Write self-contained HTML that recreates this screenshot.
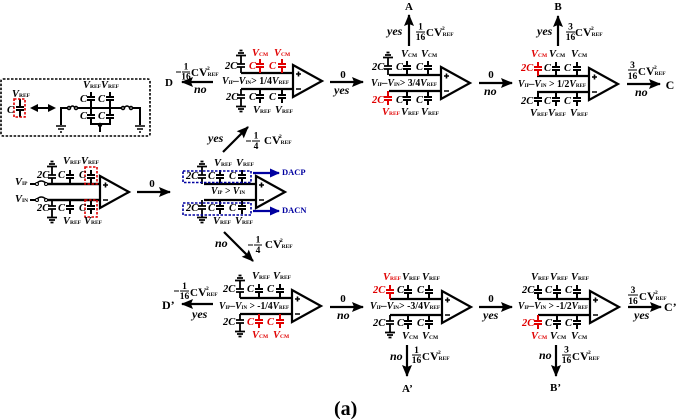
<!DOCTYPE html>
<html><head><meta charset="utf-8"><style>
html,body{margin:0;padding:0;background:#fff}
svg{display:block}
text{font:italic bold 10.5px "Liberation Serif",serif;fill:#000}
.u{font-style:normal;font-size:11px}
.s{font-size:5.5px;font-style:normal}
.r,.r tspan{fill:#e00000}
.b{font:bold 8.5px "Liberation Serif",serif;fill:#0000a0}
.l{font-size:11px;font-style:normal}
.n{font-size:9.5px;font-style:normal}
.q{font-size:12px}
.k{font-size:5.5px;font-style:normal}
</style></head><body>
<svg width="685" height="419" viewBox="0 0 685 419" xmlns="http://www.w3.org/2000/svg">
<defs>
<marker id="a" markerUnits="userSpaceOnUse" markerWidth="13" markerHeight="10" refX="11" refY="5" orient="auto"><path d="M0 0L12 5L0 10L2 5Z" fill="#000"/></marker>
<marker id="bl" markerUnits="userSpaceOnUse" markerWidth="11" markerHeight="9" refX="9" refY="4.5" orient="auto"><path d="M0 0L10 4.5L0 9Z" fill="#0000a0"/></marker>
<g id="cu" fill="none" stroke-width="2"><path d="M0 0V-6M-4-6H4M-4-9H4M0-9V-14"/></g>
<g id="cd" fill="none" stroke-width="2"><path d="M0 0V6M-4 6H4M-4 9H4M0 9V14"/></g>
<g id="gu" fill="none" stroke-width="1.800"><path d="M0 0V-6M-4-6H4M-4-9H4M0-9V-17M-5-17.500H5M-3-20H3M-1.500-22.500H1.500"/></g>
<g id="gd" fill="none" stroke-width="1.800"><path d="M0 0V6M-4 6H4M-4 9H4M0 9V17M-5 17.500H5M-3 20H3M-1.500 22.500H1.500"/></g>
<g id="m" fill="none" stroke="#000" stroke-width="2.200"><path d="M0-8L29 8L0 24ZM-52 0H0M-52 16H0"/><path stroke-width="1.600" d="M3 1H8M5.500-1.500V3.500M3 16H8"/></g>
</defs>

<!-- dashed inset -->
<rect x="1" y="79" width="149" height="57" rx="2" fill="none" stroke="#000" stroke-width="1.600" stroke-dasharray="2.500 1.500"/>
<g stroke="#000" fill="none" stroke-width="2">
<path d="M20 99V107M16 107H24M16 110H24M20 110V117"/>
<path d="M61 125V108H68M77 108H122M132 108H140V125"/>
<path d="M91 108V100M87 100H95M87 97H95M91 97V92M110 108V100M106 100H114M106 97H114M110 97V92"/>
<path d="M91 108V115M87 115H95M87 118H95M91 118V124H110V118M106 118H114M106 115H114M110 115V108M100 124V132"/>
<path d="M56 126H66M58 129H64M60 132H62M135 126H145M137 129H143M139 132H141M70 108Q72.500 104 75 108M124 108Q127 104 130 108" stroke-width="1.500"/>
<circle cx="69" cy="108" r="1.500" stroke-width="1.500"/><circle cx="76" cy="108" r="1.500" stroke-width="1.500"/><circle cx="123" cy="108" r="1.500" stroke-width="1.500"/><circle cx="131" cy="108" r="1.500" stroke-width="1.500"/>
</g>
<circle cx="100" cy="125" r="2.200"/>
<rect x="14" y="99" width="11" height="18" fill="none" stroke="#e00000" stroke-width="1.600" stroke-dasharray="2.500 1.500"/>
<path d="M32 108H54" stroke="#000" stroke-width="2"/><path d="M30 108L38 104V112ZM56 108L48 104V112Z"/>
<text x="12" y="97">V<tspan class="s">REF</tspan></text><text x="7" y="113">C</text>
<text x="83" y="88">V<tspan class="s">REF</tspan></text><text x="101" y="88">V<tspan class="s">REF</tspan></text>
<text x="80" y="102">C</text><text x="98" y="102">C</text><text x="80" y="119">C</text><text x="98" y="119">C</text>

<!-- left comparator -->
<g stroke="#000"><use href="#m" x="100" y="184"/><path d="M30 184H36M30 200H36" stroke-width="2" fill="none"/>
<path d="M47 184H100M47 200H100" stroke-width="2.200"/>
<path d="M37 183Q41 179 46 183M37 199Q41 195 46 199" fill="none" stroke-width="1.500"/>
<use href="#gu" x="52" y="184"/><use href="#cu" x="70" y="184"/><use href="#cu" x="91" y="184"/>
<use href="#gd" x="52" y="200"/><use href="#cd" x="70" y="200"/><use href="#cd" x="91" y="200"/></g>
<circle cx="37" cy="184" r="1.500" fill="none" stroke="#000"/><circle cx="46" cy="184" r="1.500" fill="none" stroke="#000"/><circle cx="37" cy="200" r="1.500" fill="none" stroke="#000"/><circle cx="46" cy="200" r="1.500" fill="none" stroke="#000"/>
<g fill="none" stroke="#e00000" stroke-width="1.600" stroke-dasharray="2.500 1.500"><rect x="85" y="167" width="12" height="17"/><rect x="85" y="200" width="12" height="17"/></g>
<text x="15" y="185">V<tspan class="s">IP</tspan></text><text x="15" y="202">V<tspan class="s">IN</tspan></text>
<text x="63" y="164">V<tspan class="s">REF</tspan></text><text x="81" y="164">V<tspan class="s">REF</tspan></text>
<text x="37" y="178">2C</text><text x="58" y="178">C</text><text x="79" y="178">C</text>
<text x="37" y="211">2C</text><text x="58" y="211">C</text><text x="79" y="211">C</text>
<text x="63" y="224">V<tspan class="s">REF</tspan></text><text x="84" y="224">V<tspan class="s">REF</tspan></text>
<line x1="137" y1="192" x2="170" y2="192" stroke="#000" stroke-width="2.200" marker-end="url(#a)"/>
<text x="152" y="187" class="u" text-anchor="middle">0</text>

<!-- middle comparator -->
<g stroke="#000"><use href="#m" x="256" y="184"/><use href="#gu" x="202" y="184"/><use href="#cu" x="220" y="184"/><use href="#cu" x="242" y="184"/><use href="#gd" x="202" y="200"/><use href="#cd" x="220" y="200"/><use href="#cd" x="242" y="200"/></g>
<g fill="none" stroke="#0000a0" stroke-width="1.600" stroke-dasharray="2.500 1.500"><rect x="183" y="171" width="68" height="11.500"/><rect x="183" y="203" width="68" height="12"/></g>
<text x="214" y="166">V<tspan class="s">REF</tspan></text><text x="236" y="166">V<tspan class="s">REF</tspan></text>
<text x="186" y="179">2C</text><text x="208" y="179">C</text><text x="229" y="179">C</text>
<text x="186" y="211">2C</text><text x="208" y="211">C</text><text x="229" y="211">C</text>
<text x="213" y="224">V<tspan class="s">REF</tspan></text><text x="235" y="224">V<tspan class="s">REF</tspan></text>
<text x="211" y="194" textLength="34" lengthAdjust="spacingAndGlyphs">V<tspan class="s">IP</tspan><tspan style="font-style:normal"> &gt; </tspan>V<tspan class="s">IN</tspan></text>
<line x1="253" y1="173" x2="279" y2="173" stroke="#0000a0" stroke-width="2.200" marker-end="url(#bl)"/>
<line x1="253" y1="211" x2="279" y2="211" stroke="#0000a0" stroke-width="2.200" marker-end="url(#bl)"/>
<text x="282" y="175" class="b">DACP</text><text x="282" y="213" class="b">DACN</text>
<line x1="223" y1="152" x2="248" y2="127" stroke="#000" stroke-width="2.200" marker-end="url(#a)"/>
<line x1="224" y1="232" x2="253" y2="261" stroke="#000" stroke-width="2.200" marker-end="url(#a)"/>
<text x="208" y="142" class="q">yes</text><text x="215" y="247" class="q">no</text>
<g stroke="#000" stroke-width="1"><path d="M246 141H251M252 141H260M248 245H253M254 245H262"/></g>
<text x="256" y="138.500" class="n" text-anchor="middle">1</text><text x="256" y="149" class="n" text-anchor="middle">4</text>
<text x="264" y="144" class="l">C<tspan class="q">V</tspan><tspan class="s">REF</tspan></text><text x="279" y="138" class="k">2</text>
<text x="258" y="242.500" class="n" text-anchor="middle">1</text><text x="258" y="253" class="n" text-anchor="middle">4</text>
<text x="265" y="248" class="l">C<tspan class="q">V</tspan><tspan class="s">REF</tspan></text><text x="280" y="242" class="k">2</text>

<!-- D -->
<g stroke="#000"><use href="#m" x="293" y="73"/><use href="#gu" x="241" y="73"/><use href="#gd" x="241" y="89"/><use href="#cd" x="260" y="89"/><use href="#cd" x="282" y="89"/></g>
<g stroke="#e00000"><use href="#cu" x="260" y="73"/><use href="#cu" x="282" y="73"/></g>
<text x="252" y="56" class="r">V<tspan class="s">CM</tspan></text><text x="274" y="56" class="r">V<tspan class="s">CM</tspan></text>
<text x="225" y="69">2C</text><text x="249" y="69" class="r">C</text><text x="269" y="69" class="r">C</text>
<text x="222" y="84" textLength="67" lengthAdjust="spacingAndGlyphs">V<tspan class="s">IP</tspan>–V<tspan class="s">IN</tspan><tspan style="font-style:normal">&gt; 1/4</tspan>V<tspan class="s">REF</tspan></text>
<text x="226" y="100">2C</text><text x="249" y="100">C</text><text x="269" y="100">C</text>
<text x="253" y="113">V<tspan class="s">REF</tspan></text><text x="275" y="113">V<tspan class="s">REF</tspan></text>
<line x1="213" y1="82" x2="182" y2="82" stroke="#000" stroke-width="2.200" marker-end="url(#a)"/>
<text x="169" y="86" class="l" text-anchor="middle">D</text>
<path d="M176 72H181M182 72H190" stroke="#000"/><text x="186" y="69.500" class="n" text-anchor="middle">1</text><text x="186" y="79.500" class="n" text-anchor="middle">16</text>
<text x="191" y="76" class="l">C<tspan class="q">V</tspan><tspan class="s">REF</tspan></text><text x="207" y="70" class="k">2</text>
<text x="194" y="93" class="q">no</text>

<line x1="330" y1="82" x2="363" y2="82" stroke="#000" stroke-width="2.200" marker-end="url(#a)"/>
<text x="343" y="78" class="u" text-anchor="middle">0</text><text x="334" y="94" class="q">yes</text>

<!-- A -->
<g stroke="#000"><use href="#m" x="441" y="75"/><use href="#gu" x="388" y="75"/><use href="#cu" x="407" y="75"/><use href="#cu" x="428" y="75"/><use href="#cd" x="407" y="91"/><use href="#cd" x="428" y="91"/></g>
<g stroke="#e00000"><use href="#cd" x="388" y="91"/></g>
<text x="401" y="57">V<tspan class="s">CM</tspan></text><text x="421" y="57">V<tspan class="s">CM</tspan></text>
<text x="372" y="70">2C</text><text x="396" y="70">C</text><text x="416" y="70">C</text>
<text x="371" y="86" textLength="66" lengthAdjust="spacingAndGlyphs">V<tspan class="s">IP</tspan>–V<tspan class="s">IN</tspan><tspan style="font-style:normal">&gt; 3/4</tspan>V<tspan class="s">REF</tspan></text>
<text x="372" y="103" class="r">2C</text><text x="396" y="103">C</text><text x="416" y="103">C</text>
<text x="382" y="115" class="r">V<tspan class="s">REF</tspan></text><text x="401" y="115">V<tspan class="s">REF</tspan></text><text x="421" y="115">V<tspan class="s">REF</tspan></text>
<line x1="409" y1="46" x2="409" y2="15" stroke="#000" stroke-width="2.200" marker-end="url(#a)"/>
<text x="409" y="10" class="l" text-anchor="middle">A</text><text x="387" y="35" class="q">yes</text>
<path d="M416 32H425" stroke="#000"/><text x="420.500" y="29.500" class="n" text-anchor="middle">1</text><text x="420.500" y="40" class="n" text-anchor="middle">16</text>
<text x="426" y="36" class="l">C<tspan class="q">V</tspan><tspan class="s">REF</tspan></text><text x="442" y="30" class="k">2</text>

<line x1="479" y1="83" x2="512" y2="83" stroke="#000" stroke-width="2.200" marker-end="url(#a)"/>
<text x="491" y="78" class="u" text-anchor="middle">0</text><text x="484" y="95" class="q">no</text>

<!-- B -->
<g stroke="#000"><use href="#m" x="589" y="76"/><use href="#cu" x="556" y="76"/><use href="#cu" x="577" y="76"/><use href="#cd" x="538" y="92"/><use href="#cd" x="556" y="92"/><use href="#cd" x="577" y="92"/></g>
<g stroke="#e00000"><use href="#cu" x="538" y="76"/></g>
<text x="531" y="57" class="r">V<tspan class="s">CM</tspan></text><text x="549" y="57">V<tspan class="s">CM</tspan></text><text x="571" y="57">V<tspan class="s">CM</tspan></text>
<text x="521" y="71" class="r">2C</text><text x="544" y="71">C</text><text x="564" y="71">C</text>
<text x="518" y="87" textLength="68" lengthAdjust="spacingAndGlyphs">V<tspan class="s">IP</tspan>–V<tspan class="s">IN</tspan><tspan style="font-style:normal"> &gt; 1/2</tspan>V<tspan class="s">REF</tspan></text>
<text x="521" y="104">2C</text><text x="544" y="104">C</text><text x="564" y="104">C</text>
<text x="530" y="116">V<tspan class="s">REF</tspan></text><text x="548" y="116">V<tspan class="s">REF</tspan></text><text x="570" y="116">V<tspan class="s">REF</tspan></text>
<line x1="558" y1="46" x2="558" y2="16" stroke="#000" stroke-width="2.200" marker-end="url(#a)"/>
<text x="558" y="10" class="l" text-anchor="middle">B</text><text x="537" y="35" class="q">yes</text>
<path d="M566 32H575" stroke="#000"/><text x="570.500" y="29.500" class="n" text-anchor="middle">3</text><text x="570.500" y="40" class="n" text-anchor="middle">16</text>
<text x="575" y="36" class="l">C<tspan class="q">V</tspan><tspan class="s">REF</tspan></text><text x="591" y="30" class="k">2</text>
<line x1="627" y1="84" x2="660" y2="84" stroke="#000" stroke-width="2.200" marker-end="url(#a)"/>
<text x="670" y="89" class="l" text-anchor="middle" style="font-size:12px">C</text>
<path d="M628 70H637" stroke="#000"/><text x="632.500" y="68" class="n" text-anchor="middle">3</text><text x="632.500" y="79" class="n" text-anchor="middle">16</text>
<text x="638" y="75" class="l">C<tspan class="q">V</tspan><tspan class="s">REF</tspan></text><text x="654" y="69" class="k">2</text>
<text x="635" y="96" class="q">no</text>

<!-- D' -->
<g stroke="#000"><use href="#m" x="292" y="298"/><use href="#gu" x="240" y="298"/><use href="#cu" x="259" y="298"/><use href="#cu" x="280" y="298"/><use href="#gd" x="240" y="314"/></g>
<g stroke="#e00000"><use href="#cd" x="259" y="314"/><use href="#cd" x="280" y="314"/></g>
<text x="252" y="279">V<tspan class="s">REF</tspan></text><text x="273" y="279">V<tspan class="s">REF</tspan></text>
<text x="223" y="292">2C</text><text x="247" y="292">C</text><text x="267" y="292">C</text>
<text x="219" y="309" textLength="70" lengthAdjust="spacingAndGlyphs">V<tspan class="s">IP</tspan>–V<tspan class="s">IN</tspan><tspan style="font-style:normal"> &gt; -1/4</tspan>V<tspan class="s">REF</tspan></text>
<text x="223" y="325">2C</text><text x="247" y="325" class="r">C</text><text x="267" y="325" class="r">C</text>
<text x="252" y="338" class="r">V<tspan class="s">CM</tspan></text><text x="273" y="338" class="r">V<tspan class="s">CM</tspan></text>
<line x1="213" y1="304" x2="182" y2="304" stroke="#000" stroke-width="2.200" marker-end="url(#a)"/>
<text x="162" y="309" class="l" style="font-size:12px">D’</text>
<path d="M174 291H179M180 291H189" stroke="#000"/><text x="184.500" y="289" class="n" text-anchor="middle">1</text><text x="184.500" y="299" class="n" text-anchor="middle">16</text>
<text x="190" y="296" class="l">C<tspan class="q">V</tspan><tspan class="s">REF</tspan></text><text x="206" y="290" class="k">2</text>
<text x="192" y="318" class="q">yes</text>

<line x1="330" y1="307" x2="363" y2="307" stroke="#000" stroke-width="2.200" marker-end="url(#a)"/>
<text x="343" y="302" class="u" text-anchor="middle">0</text><text x="337" y="319" class="q">no</text>

<!-- A' -->
<g stroke="#000"><use href="#m" x="442" y="299"/><use href="#cu" x="408" y="299"/><use href="#cu" x="429" y="299"/><use href="#gd" x="390" y="315"/><use href="#cd" x="408" y="315"/><use href="#cd" x="429" y="315"/></g>
<g stroke="#e00000"><use href="#cu" x="390" y="299"/></g>
<text x="383" y="280" class="r">V<tspan class="s">REF</tspan></text><text x="402" y="280">V<tspan class="s">REF</tspan></text><text x="422" y="280">V<tspan class="s">REF</tspan></text>
<text x="373" y="293" class="r">2C</text><text x="397" y="293">C</text><text x="417" y="293">C</text>
<text x="370" y="309" textLength="70" lengthAdjust="spacingAndGlyphs">V<tspan class="s">IP</tspan>–V<tspan class="s">IN</tspan><tspan style="font-style:normal">&gt; -3/4</tspan>V<tspan class="s">REF</tspan></text>
<text x="373" y="326">2C</text><text x="397" y="326">C</text><text x="417" y="326">C</text>
<text x="402" y="339">V<tspan class="s">CM</tspan></text><text x="422" y="339">V<tspan class="s">CM</tspan></text>
<line x1="407" y1="345" x2="407" y2="376" stroke="#000" stroke-width="2.200" marker-end="url(#a)"/>
<text x="402" y="392" class="l">A’</text><text x="390" y="360" class="q">no</text>
<path d="M412 355H421" stroke="#000"/><text x="416.500" y="353" class="n" text-anchor="middle">1</text><text x="416.500" y="363" class="n" text-anchor="middle">16</text>
<text x="422" y="360" class="l">C<tspan class="q">V</tspan><tspan class="s">REF</tspan></text><text x="438" y="354" class="k">2</text>

<line x1="479" y1="307" x2="512" y2="307" stroke="#000" stroke-width="2.200" marker-end="url(#a)"/>
<text x="491" y="302" class="u" text-anchor="middle">0</text><text x="483" y="319" class="q">yes</text>

<!-- B' -->
<g stroke="#000"><use href="#m" x="590" y="299"/><use href="#cu" x="538" y="299"/><use href="#cu" x="557" y="299"/><use href="#cu" x="577" y="299"/><use href="#cd" x="557" y="315"/><use href="#cd" x="577" y="315"/></g>
<g stroke="#e00000"><use href="#cd" x="538" y="315"/></g>
<text x="531" y="280">V<tspan class="s">REF</tspan></text><text x="550" y="280">V<tspan class="s">REF</tspan></text><text x="571" y="280">V<tspan class="s">REF</tspan></text>
<text x="522" y="293">2C</text><text x="545" y="293">C</text><text x="565" y="293">C</text>
<text x="518" y="309" textLength="70" lengthAdjust="spacingAndGlyphs">V<tspan class="s">IP</tspan>–V<tspan class="s">IN</tspan><tspan style="font-style:normal"> &gt; -1/2</tspan>V<tspan class="s">REF</tspan></text>
<text x="522" y="326" class="r">2C</text><text x="545" y="326">C</text><text x="565" y="326">C</text>
<text x="531" y="339" class="r">V<tspan class="s">CM</tspan></text><text x="550" y="339">V<tspan class="s">CM</tspan></text><text x="571" y="339">V<tspan class="s">CM</tspan></text>
<line x1="556" y1="345" x2="556" y2="376" stroke="#000" stroke-width="2.200" marker-end="url(#a)"/>
<text x="550" y="391" class="l">B’</text><text x="539" y="359" class="q">no</text>
<path d="M562 355H571" stroke="#000"/><text x="566.500" y="352.500" class="n" text-anchor="middle">3</text><text x="566.500" y="363" class="n" text-anchor="middle">16</text>
<text x="572" y="360" class="l">C<tspan class="q">V</tspan><tspan class="s">REF</tspan></text><text x="588" y="354" class="k">2</text>
<line x1="628" y1="307" x2="661" y2="307" stroke="#000" stroke-width="2.200" marker-end="url(#a)"/>
<text x="664" y="311" class="l" style="font-size:12px">C’</text>
<path d="M628 295H638" stroke="#000"/><text x="633" y="293" class="n" text-anchor="middle">3</text><text x="633" y="304" class="n" text-anchor="middle">16</text>
<text x="639" y="300" class="l">C<tspan class="q">V</tspan><tspan class="s">REF</tspan></text><text x="655" y="294" class="k">2</text>
<text x="634" y="319" class="q">yes</text>

<text x="334" y="415" class="u" style="font-size:20px">(a)</text>
</svg>
</body></html>
